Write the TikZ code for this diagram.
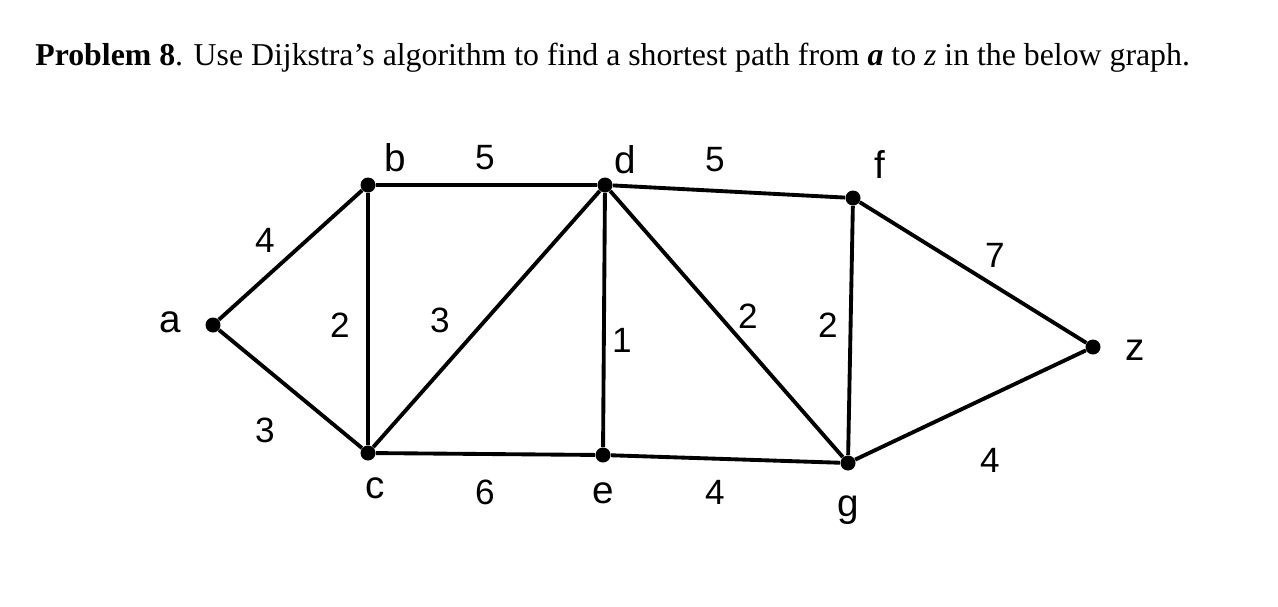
\documentclass[tikz,border=0pt]{standalone}
\usepackage{fontspec}
\setmainfont{Liberation Serif}
\newfontfamily\hand{Liberation Sans}
\begin{document}
\begin{tikzpicture}[x=0.02cm,y=-0.02cm,
  vtx/.style={circle,fill=black,inner sep=0pt,minimum size=0.3cm},
  edge/.style={line width=2.2pt},
  wt/.style={font=\hand\fontsize{20}{20}\selectfont},
  lbl/.style={font=\hand\fontsize{22}{22}\selectfont}]
\useasboundingbox (0,0) rectangle (1278,606);
\node[anchor=west,inner sep=0pt,font=\fontsize{18.1}{20}\selectfont] (title) at (35,58) {\textbf{Problem 8}. Use Dijkstra’s algorithm to find a shortest path from \textit{\textbf{a}} to \textit{z} in the below graph.};
\node[vtx] (a) at (213,325) {};
\node[vtx] (b) at (368,185) {};
\node[vtx] (d) at (605,185) {};
\node[vtx] (f) at (853,198) {};
\node[vtx] (z) at (1093,347) {};
\node[vtx] (c) at (368,453) {};
\node[vtx] (e) at (603,455) {};
\node[vtx] (g) at (848,463) {};
\draw[edge] (a)--(b) (a)--(c) (b)--(d) (d)--(f) (b)--(c) (c)--(d) (d)--(e) (d)--(g) (f)--(g) (f)--(z) (g)--(z) (c)--(e) (e)--(g);
\node[lbl] (la) at (170,322) {a};
\node[lbl] (lb) at (395,158) {b};
\node[lbl] (ld) at (625,160) {d};
\node[lbl] (lf) at (880,165) {f};
\node[lbl] (lz) at (1135,350) {z};
\node[lbl] (lc) at (375,488) {c};
\node[lbl] (le) at (603,493) {e};
\node[lbl] (lg) at (848,510) {g};
\node[wt] (w1) at (265,240) {4};
\node[wt] (w2) at (265,430) {3};
\node[wt] (w3) at (485,158) {5};
\node[wt] (w4) at (715,160) {5};
\node[wt] (w5) at (340,325) {2};
\node[wt] (w6) at (440,320) {3};
\node[wt] (w7) at (622,340) {1};
\node[wt] (w8) at (748,316) {2};
\node[wt] (w9) at (828,325) {2};
\node[wt] (w10) at (995,255) {7};
\node[wt] (w11) at (990,460) {4};
\node[wt] (w12) at (485,492) {6};
\node[wt] (w13) at (715,492) {4};
\end{tikzpicture}
\end{document}
